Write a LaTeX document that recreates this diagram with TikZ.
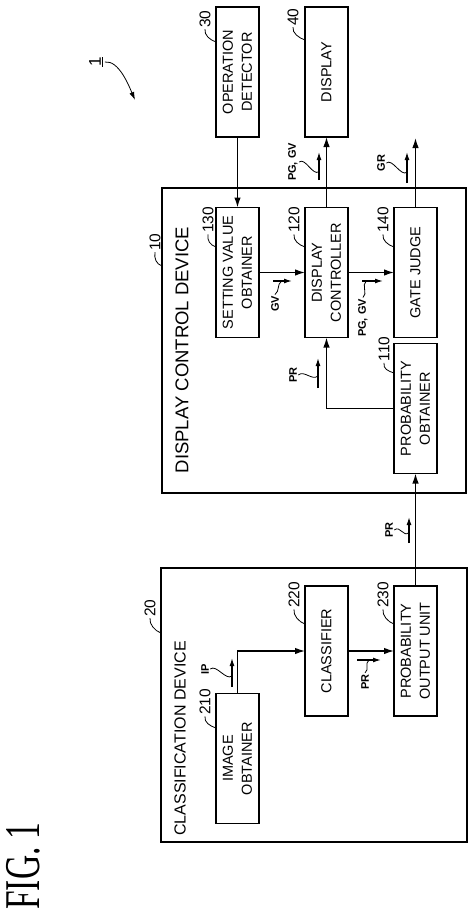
\documentclass[tikz,border=0pt]{standalone}
\usepackage{graphicx}
\usepackage{fontspec}
\setmainfont{Liberation Sans}
\newfontfamily\figfont{Liberation Serif}
\usetikzlibrary{arrows.meta}

\begin{document}
\begin{tikzpicture}[x=1pt,y=-1pt,line width=1.3pt,
    every node/.style={inner sep=0pt,outer sep=0pt},
    block/.style={draw,rotate=90,minimum width=130pt,minimum height=43pt,
        align=center,font=\fontsize{14.5}{19}\selectfont},
    device/.style={draw},
    title/.style={rotate=90},
    refnum/.style={rotate=90,font=\fontsize{15.5}{15.5}\selectfont},
    signame/.style={rotate=90,font=\bfseries\fontsize{11}{11}\selectfont},
    arr/.style={-{Latex[length=10pt,width=6.5pt]}},
    sarr/.style={-{Latex[length=8pt,width=5pt]}},
    leader/.style={line width=0.8pt}]
    \useasboundingbox (0,0) rectangle (474,915);

    % the two devices
    \node[device,minimum width=304pt,minimum height=305pt] (dcd) at (314,340.5) {};
    \node[device,minimum width=306pt,minimum height=274pt] (cd) at (314,705) {};
    \node[title,font=\fontsize{18.5}{18.5}\selectfont] (tdcd) at (182,350) {DISPLAY CONTROL DEVICE};
    \node[title,font=\fontsize{16}{16}\selectfont] (tcd) at (180,738.5) {CLASSIFICATION DEVICE};

    % blocks (rotated: east = top, west = bottom, north = left, south = right)
    \node[block] (b30) at (237.5,72) {OPERATION\\DETECTOR};
    \node[block] (b40) at (326.5,72) {DISPLAY};
    \node[block] (b130) at (237.5,272.5) {SETTING VALUE\\OBTAINER};
    \node[block] (b120) at (326.5,272.5) {DISPLAY\\CONTROLLER};
    \node[block] (b140) at (415.5,272.5) {GATE JUDGE};
    \node[block] (b110) at (415.5,408.5) {PROBABILITY\\OBTAINER};
    \node[block] (b210) at (237.5,758.5) {IMAGE\\OBTAINER};
    \node[block] (b220) at (326.5,651) {CLASSIFIER};
    \node[block] (b230) at (415.5,651) {PROBABILITY\\OUTPUT UNIT};

    % connections
    \coordinate (gr) at (415.5,138);
    \draw[arr] (b30.west) -- (b130.east);
    \draw[arr] (b130.south) -- (b120.north);
    \draw[arr] (b120.south) -- (b140.north);
    \draw[arr] (b120.east) -- (b40.west);
    \draw[arr] (b140.east) -- (gr);
    \draw[arr] (b110.north) -| (b120.west);
    \draw[arr] (b230.east) -- (b110.west);
    \draw[arr] (b210.east) |- (b220.north);
    \draw[arr] (b220.south) -- (b230.north);

    % reference numerals with leaders
    \foreach \n/\lx/\ly/\bx/\ey in {30/205/19/b30/42, 40/293/17/b40/40,
        130/208/220/b130/247, 120/294/220/b120/247, 140/383/220/b140/247,
        110/384/349/b110/373, 210/205/702/b210/728, 220/294/595/b220/624,
        230/383/595/b230/624, 20/150/608/cd/633, 10/155/242/dcd/266}{
        \node[refnum] (l\n) at (\lx,\ly) {\n};
        \draw[leader] ([yshift=-1.5pt]l\n.west) .. controls +(-1,6) and +(-6,-2) .. (\bx.north west |- 0,\ey);
    }

    % signal names beside vertical lines
    \foreach \n/\x/\ya/\yb/\p/\txt/\lx/\ly in {
        s1/319/180/152/0.3/{PG, GV}/293/162,
        s2/407/183/152/0.35/GR/381/163,
        s3/318/388/358/0.4/PR/293/375,
        s4/409/543/517/0.4/PR/389/530,
        s5/232/687/658/0.38/IP/205/669}{
        \coordinate (\n-a) at (\x,\ya);
        \coordinate (\n-b) at (\x,\yb);
        \draw[sarr] (\n-a) -- coordinate[pos=\p] (\n-m) (\n-b);
        \node[signame] (\n-l) at (\lx,\ly) {\txt};
        \draw[leader] ([xshift=1.5pt]\n-l.south) .. controls +(6,-5) and +(-6,5) .. (\n-m);
    }

    % signal names below horizontal lines
    \foreach \n/\y/\xa/\xb/\p/\txt/\lx/\ly in {
        s6/281/273/292/0.45/GV/275/304,
        s7/281/362/383/0.2/{PG, GV}/363/318,
        s8/660/357/381/0.5/PR/365/682}{
        \coordinate (\n-a) at (\xa,\y);
        \coordinate (\n-b) at (\xb,\y);
        \draw[sarr] (\n-a) -- coordinate[pos=\p] (\n-m) (\n-b);
        \node[signame] (\n-l) at (\lx,\ly) {\txt};
        \draw[leader] ([yshift=1.5pt]\n-l.east) .. controls +(5,-4) and +(-5,4) .. (\n-m);
    }

    % whole system
    \coordinate (sys) at (135,100);
    \node[rotate=90,font=\fontsize{17}{17}\selectfont] (l1) at (96,62) {\underline{1}};
    \draw[leader,sarr] ([xshift=2pt]l1.south) .. controls +(14,-2) and +(-6,-14) .. (sys);

    \node[rotate=90,font=\figfont\fontsize{50}{50}\selectfont] (fig) at (23,866) {\scalebox{0.67}[1]{FIG. 1}};
\end{tikzpicture}
\end{document}
